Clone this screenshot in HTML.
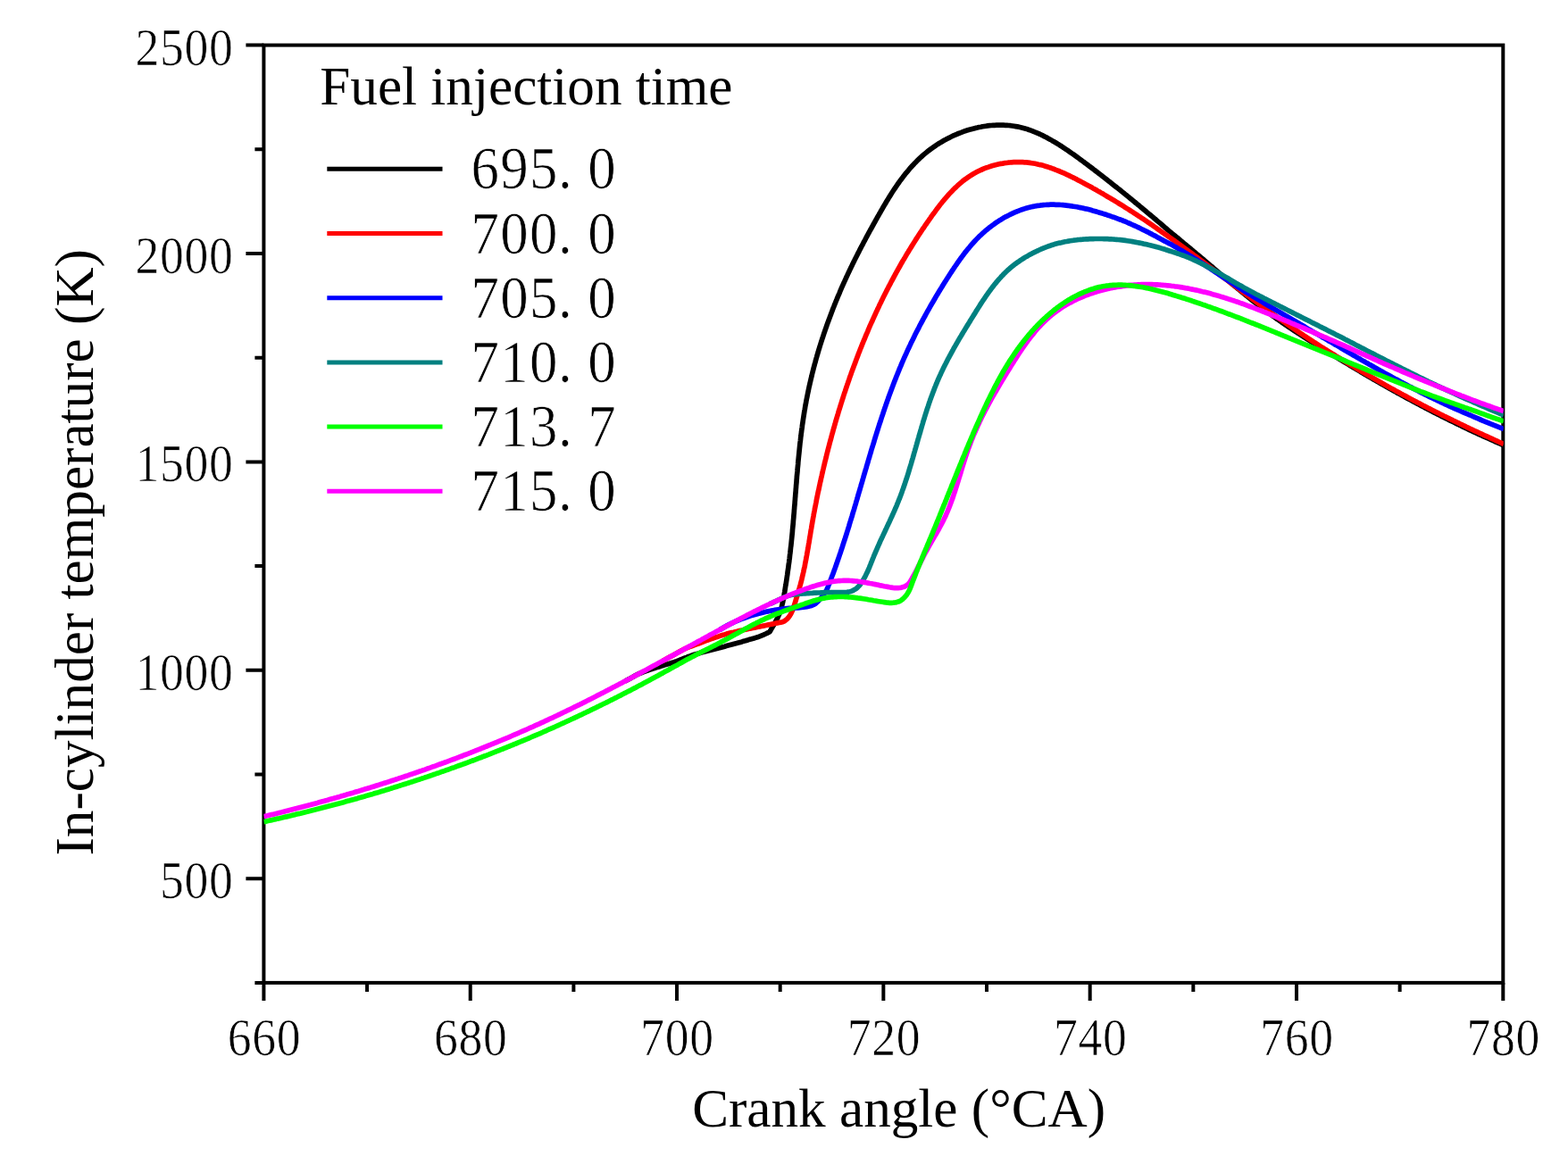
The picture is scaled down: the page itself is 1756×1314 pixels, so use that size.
<!DOCTYPE html>
<html lang="en">
<head>
<meta charset="utf-8">
<title>In-cylinder temperature vs crank angle</title>
<style>
html,body{margin:0;padding:0;background:#fff;}
body{width:1756px;height:1314px;overflow:hidden;}
svg{display:block;}
text{fill:#000;}
.num{font-family:"Liberation Serif","Noto Serif CJK SC",serif;stroke:#fff;stroke-width:0.7px;stroke-linejoin:round;}
.lab{font-family:"Liberation Serif","Noto Serif CJK SC",serif;}
</style>
</head>
<body>
<svg width="1756" height="1314" viewBox="0 0 1756 1314">
<rect x="0" y="0" width="1756" height="1314" fill="#ffffff"/>
<rect x="295.4" y="50.6" width="1387.9" height="1050.30" fill="none" stroke="#000" stroke-width="4.0"/>
<path d="M295.40,1100.9v20M411.06,1100.9v10M526.72,1100.9v20M642.38,1100.9v10M758.03,1100.9v20M873.69,1100.9v10M989.35,1100.9v20M1105.01,1100.9v10M1220.67,1100.9v20M1336.33,1100.9v10M1451.98,1100.9v20M1567.64,1100.9v10M1683.30,1100.9v20M295.4,1100.90h-10M295.4,984.20h-20M295.4,867.50h-10M295.4,750.80h-20M295.4,634.10h-10M295.4,517.40h-20M295.4,400.70h-10M295.4,284.00h-20M295.4,167.30h-10M295.4,50.60h-20" fill="none" stroke="#000" stroke-width="4.0"/>
<clipPath id="clip"><rect x="295.4" y="50.6" width="1388.40" height="1050.30"/></clipPath>
<g clip-path="url(#clip)" fill="none" stroke-linejoin="round" stroke-linecap="butt">
<path d="M700.0,763.0L701.8,762.1L703.5,761.1L705.3,760.2L707.1,759.2L708.9,758.3L710.6,757.3L712.4,756.3L714.1,755.4L716.0,754.5L717.8,753.8L719.7,753.0L721.6,752.3L723.5,751.7L725.4,751.0L727.3,750.4L729.2,749.7L731.1,749.1L733.0,748.5L734.9,747.9L736.8,747.3L738.7,746.7L740.6,746.1L742.6,745.5L744.5,744.9L746.4,744.3L748.3,743.8L750.2,743.2L752.2,742.6L754.1,742.0L756.0,741.3L757.9,740.7L759.8,740.0L761.6,739.2L763.5,738.5L765.3,737.7L767.2,737.0L769.1,736.3L771.0,735.5L772.8,734.9L774.7,734.2L776.7,733.6L778.6,733.0L780.5,732.4L782.4,731.9L784.4,731.3L786.3,730.8L788.2,730.3L790.2,729.8L792.1,729.3L794.1,728.8L796.0,728.3L798.0,727.8L799.9,727.3L801.9,726.8L803.8,726.3L805.7,725.8L807.7,725.2L809.6,724.7L811.5,724.2L813.5,723.6L815.4,723.1L817.4,722.6L819.3,722.1L821.2,721.5L823.2,721.0L825.1,720.5L827.0,719.9L829.0,719.4L830.9,718.9L832.8,718.3L834.8,717.8L836.7,717.2L838.6,716.6L840.6,716.1L842.5,715.5L844.4,715.0L846.3,714.4L848.3,713.8L850.2,713.1L852.0,712.4L853.9,711.7L855.7,710.8L857.5,710.0L859.3,709.1L861.1,708.2L862.0,707.7L863.0,706.0L864.0,704.2L865.0,702.5L866.1,700.8L867.1,699.0L868.1,697.3L869.0,695.5L870.0,693.8L870.9,692.0L871.7,690.2L872.5,688.4L873.2,686.5L873.9,684.7L874.5,682.8L875.1,680.9L875.6,679.0L876.0,677.0L876.5,675.1L876.9,673.1L877.3,671.1L877.6,669.2L878.0,667.2L878.3,665.2L878.7,663.2L879.0,661.3L879.3,659.3L879.6,657.3L880.0,655.3L880.3,653.3L880.6,651.4L880.9,649.4L881.2,647.4L881.5,645.4L881.8,643.4L882.0,641.5L882.3,639.5L882.6,637.5L882.9,635.5L883.1,633.5L883.4,631.5L883.7,629.6L883.9,627.6L884.2,625.6L884.4,623.6L884.6,621.6L884.9,619.6L885.1,617.6L885.3,615.7L885.5,613.7L885.8,611.7L886.0,609.7L886.2,607.7L886.4,605.7L886.6,603.7L886.8,601.7L887.0,599.7L887.2,597.8L887.4,595.8L887.5,593.8L887.7,591.8L887.9,589.8L888.1,587.8L888.3,585.8L888.4,583.8L888.6,581.8L888.8,579.8L888.9,577.8L889.1,575.8L889.3,573.8L889.4,571.8L889.6,569.8L889.7,567.9L889.9,565.9L890.1,563.9L890.2,561.9L890.4,559.9L890.5,557.9L890.7,555.9L890.8,553.9L891.0,551.9L891.2,549.9L891.3,547.9L891.5,545.9L891.6,543.9L891.8,541.9L892.0,539.9L892.1,537.9L892.3,535.9L892.4,533.9L892.6,531.9L892.8,530.0L893.0,528.0L893.1,526.0L893.3,524.0L893.5,522.0L893.7,520.0L893.8,518.0L894.0,516.0L894.2,514.0L894.4,512.0L894.6,510.0L894.8,508.1L895.0,506.1L895.2,504.1L895.4,502.1L895.6,500.1L895.8,498.1L896.0,496.1L896.3,494.1L896.5,492.2L896.7,490.2L897.0,488.2L897.2,486.2L897.5,484.2L897.7,482.2L898.0,480.3L898.3,478.3L898.5,476.3L898.8,474.3L899.1,472.4L899.4,470.4L899.7,468.4L900.0,466.4L900.3,464.5L900.6,462.5L900.9,460.5L901.3,458.5L901.6,456.6L901.9,454.6L902.3,452.6L902.7,450.7L903.0,448.7L903.4,446.7L903.8,444.8L904.2,442.8L904.6,440.8L905.0,438.9L905.4,436.9L905.8,435.0L906.2,433.0L906.7,431.1L907.1,429.1L907.6,427.2L908.0,425.2L908.5,423.3L909.0,421.3L909.4,419.4L909.9,417.4L910.4,415.5L910.9,413.5L911.4,411.6L911.9,409.7L912.4,407.7L913.0,405.8L913.5,403.8L914.0,401.9L914.6,400.0L915.1,398.1L915.7,396.1L916.3,394.2L916.8,392.3L917.4,390.4L918.0,388.4L918.6,386.5L919.2,384.6L919.8,382.7L920.4,380.8L921.0,378.9L921.7,377.0L922.3,375.1L922.9,373.2L923.6,371.3L924.2,369.4L924.9,367.5L925.6,365.6L926.2,363.7L926.9,361.8L927.6,359.9L928.3,358.0L929.0,356.2L929.7,354.3L930.4,352.4L931.1,350.5L931.8,348.7L932.5,346.8L933.2,344.9L934.0,343.1L934.7,341.2L935.5,339.3L936.2,337.5L937.0,335.6L937.7,333.8L938.5,331.9L939.3,330.1L940.1,328.3L940.8,326.4L941.6,324.6L942.4,322.7L943.2,320.9L944.0,319.1L944.8,317.3L945.7,315.4L946.5,313.6L947.3,311.8L948.1,310.0L949.0,308.2L949.8,306.4L950.7,304.6L951.5,302.8L952.4,301.0L953.2,299.2L954.1,297.4L955.0,295.6L955.8,293.8L956.7,292.1L957.6,290.3L958.5,288.5L959.4,286.7L960.3,284.9L961.2,283.2L962.1,281.4L963.0,279.6L963.9,277.9L964.8,276.1L965.8,274.3L966.7,272.6L967.6,270.8L968.6,269.1L969.5,267.3L970.4,265.5L971.4,263.8L972.3,262.0L973.3,260.3L974.2,258.5L975.2,256.8L976.2,255.0L977.1,253.3L978.1,251.5L979.1,249.7L980.1,248.0L981.0,246.2L982.0,244.5L983.0,242.7L984.0,241.0L985.0,239.2L986.0,237.5L987.0,235.7L988.0,234.0L989.0,232.2L990.0,230.5L991.1,228.8L992.1,227.0L993.1,225.3L994.2,223.6L995.2,221.8L996.3,220.1L997.4,218.4L998.4,216.7L999.5,215.0L1000.6,213.3L1001.7,211.7L1002.9,210.0L1004.0,208.3L1005.1,206.7L1006.3,205.0L1007.4,203.4L1008.6,201.8L1009.8,200.2L1011.0,198.6L1012.2,197.0L1013.5,195.4L1014.7,193.8L1016.0,192.3L1017.3,190.8L1018.6,189.2L1019.9,187.7L1021.2,186.3L1022.6,184.8L1023.9,183.3L1025.3,181.9L1026.7,180.5L1028.1,179.1L1029.6,177.7L1031.0,176.3L1032.5,175.0L1034.0,173.7L1035.5,172.4L1037.1,171.1L1038.7,169.8L1040.2,168.6L1041.8,167.4L1043.5,166.2L1045.1,165.0L1046.8,163.9L1048.4,162.7L1050.1,161.6L1051.8,160.5L1053.6,159.5L1055.3,158.5L1057.0,157.4L1058.8,156.5L1060.6,155.5L1062.4,154.6L1064.2,153.7L1066.0,152.8L1067.8,151.9L1069.7,151.1L1071.5,150.3L1073.4,149.5L1075.3,148.8L1077.2,148.1L1079.0,147.4L1080.9,146.7L1082.9,146.1L1084.8,145.5L1086.7,144.9L1088.6,144.4L1090.6,143.9L1092.5,143.4L1094.4,143.0L1096.4,142.5L1098.3,142.2L1100.3,141.8L1102.3,141.5L1104.2,141.2L1106.2,140.9L1108.1,140.7L1110.1,140.5L1112.1,140.4L1114.0,140.3L1116.0,140.2L1118.0,140.1L1119.9,140.1L1121.9,140.1L1123.8,140.2L1125.8,140.3L1127.8,140.4L1129.7,140.5L1131.6,140.7L1133.6,141.0L1135.5,141.3L1137.4,141.6L1139.4,141.9L1141.3,142.3L1143.2,142.7L1145.1,143.2L1147.0,143.7L1148.9,144.3L1150.8,144.8L1152.6,145.5L1154.5,146.1L1156.3,146.8L1158.2,147.6L1160.0,148.3L1161.9,149.1L1163.7,149.9L1165.5,150.8L1167.4,151.7L1169.2,152.6L1171.0,153.5L1172.8,154.4L1174.6,155.4L1176.4,156.4L1178.1,157.4L1179.9,158.4L1181.7,159.5L1183.4,160.5L1185.2,161.6L1186.9,162.7L1188.7,163.8L1190.4,165.0L1192.1,166.1L1193.9,167.3L1195.6,168.4L1197.3,169.6L1199.0,170.8L1200.7,172.0L1202.4,173.2L1204.1,174.4L1205.8,175.6L1207.4,176.8L1209.1,178.1L1210.8,179.3L1212.4,180.5L1214.1,181.7L1215.7,183.0L1217.4,184.2L1219.0,185.4L1220.6,186.7L1222.3,187.9L1223.9,189.1L1225.5,190.4L1227.1,191.6L1228.7,192.8L1230.3,194.1L1231.9,195.3L1233.5,196.5L1235.1,197.8L1236.7,199.0L1238.3,200.2L1239.9,201.5L1241.4,202.7L1243.0,203.9L1244.6,205.2L1246.1,206.4L1247.7,207.7L1249.2,208.9L1250.8,210.1L1252.4,211.4L1253.9,212.6L1255.4,213.8L1257.0,215.1L1258.5,216.3L1260.1,217.6L1261.6,218.8L1263.2,220.1L1264.7,221.3L1266.2,222.6L1267.8,223.8L1269.3,225.1L1270.8,226.4L1272.4,227.6L1273.9,228.9L1275.4,230.1L1276.9,231.4L1278.5,232.7L1280.0,234.0L1281.5,235.2L1283.1,236.5L1284.6,237.8L1286.1,239.1L1287.6,240.4L1289.2,241.6L1290.7,242.9L1292.2,244.2L1293.8,245.5L1295.3,246.8L1296.8,248.1L1298.4,249.4L1299.9,250.7L1301.4,252.0L1303.0,253.4L1304.5,254.7L1306.1,256.0L1307.6,257.3L1309.1,258.6L1310.7,259.9L1312.2,261.2L1313.7,262.4L1315.3,263.7L1316.8,265.0L1318.4,266.2L1319.9,267.5L1321.4,268.8L1323.0,270.1L1324.5,271.3L1326.0,272.6L1327.6,273.9L1329.1,275.2L1330.6,276.4L1332.2,277.7L1333.7,279.0L1335.2,280.3L1336.8,281.6L1338.3,282.8L1339.8,284.1L1341.4,285.4L1342.9,286.7L1344.4,288.0L1345.9,289.2L1347.5,290.5L1349.0,291.8L1350.5,293.1L1352.0,294.4L1353.5,295.7L1355.0,297.0L1356.6,298.2L1358.1,299.5L1359.6,300.8L1361.1,302.1L1362.6,303.4L1364.1,304.7L1365.6,306.0L1367.1,307.3L1368.6,308.5L1370.1,309.8L1371.7,311.1L1373.2,312.4L1374.7,313.7L1376.2,314.9L1377.7,316.2L1379.2,317.5L1380.7,318.7L1382.2,320.0L1383.7,321.3L1385.3,322.5L1386.8,323.8L1388.3,325.0L1389.8,326.3L1391.3,327.5L1392.9,328.8L1394.4,330.0L1395.9,331.3L1397.5,332.5L1399.0,333.7L1400.5,334.9L1402.1,336.2L1403.6,337.4L1405.2,338.6L1406.7,339.8L1408.3,341.0L1409.8,342.2L1411.4,343.4L1413.0,344.6L1414.5,345.8L1416.1,347.0L1417.7,348.2L1419.3,349.4L1420.9,350.5L1422.5,351.7L1424.1,352.9L1425.7,354.1L1427.3,355.2L1428.9,356.4L1430.5,357.6L1432.2,358.7L1433.8,359.8L1435.4,361.0L1437.1,362.1L1438.7,363.3L1440.4,364.4L1442.0,365.5L1443.7,366.6L1445.3,367.7L1447.0,368.8L1448.7,370.0L1450.4,371.1L1452.0,372.2L1453.7,373.3L1455.4,374.3L1457.1,375.4L1458.8,376.5L1460.4,377.6L1462.1,378.7L1463.8,379.8L1465.5,380.8L1467.2,381.9L1468.9,383.0L1470.6,384.1L1472.3,385.1L1474.0,386.2L1475.7,387.2L1477.4,388.3L1479.1,389.4L1480.8,390.4L1482.5,391.5L1484.2,392.5L1485.9,393.6L1487.6,394.6L1489.3,395.7L1491.0,396.7L1492.7,397.7L1494.4,398.8L1496.1,399.8L1497.8,400.8L1499.5,401.9L1501.3,402.9L1503.0,404.0L1504.7,405.0L1506.4,406.1L1508.1,407.1L1509.8,408.1L1511.6,409.2L1513.3,410.2L1515.0,411.3L1516.7,412.3L1518.5,413.3L1520.2,414.4L1521.9,415.4L1523.6,416.4L1525.4,417.4L1527.1,418.5L1528.8,419.5L1530.6,420.5L1532.3,421.5L1534.0,422.5L1535.8,423.5L1537.5,424.5L1539.2,425.6L1541.0,426.6L1542.7,427.6L1544.5,428.6L1546.2,429.6L1548.0,430.5L1549.7,431.5L1551.5,432.5L1553.2,433.5L1555.0,434.5L1556.7,435.5L1558.5,436.5L1560.2,437.4L1562.0,438.4L1563.7,439.4L1565.5,440.4L1567.2,441.3L1569.0,442.3L1570.7,443.3L1572.5,444.2L1574.3,445.2L1576.0,446.2L1577.8,447.1L1579.6,448.1L1581.3,449.0L1583.1,450.0L1584.9,450.9L1586.6,451.9L1588.4,452.8L1590.2,453.7L1592.0,454.7L1593.7,455.6L1595.5,456.6L1597.3,457.5L1599.1,458.4L1600.8,459.3L1602.6,460.3L1604.4,461.2L1606.2,462.1L1608.0,463.0L1609.8,463.9L1611.5,464.8L1613.3,465.7L1615.1,466.6L1616.9,467.5L1618.7,468.4L1620.5,469.3L1622.3,470.2L1624.1,471.1L1625.9,471.9L1627.7,472.8L1629.5,473.7L1631.3,474.6L1633.1,475.5L1634.9,476.3L1636.7,477.2L1638.5,478.1L1640.3,479.0L1642.1,479.8L1643.9,480.7L1645.7,481.6L1647.5,482.4L1649.3,483.3L1651.2,484.1L1653.0,484.9L1654.8,485.8L1656.6,486.6L1658.4,487.4L1660.2,488.3L1662.1,489.1L1663.9,489.9L1665.7,490.7L1667.5,491.5L1669.4,492.4L1671.2,493.2L1673.0,494.0L1674.8,494.8L1676.7,495.6L1678.5,496.4L1680.3,497.2L1682.2,498.0L1684.0,498.8" stroke="#000000" stroke-width="5.7"/>
<path d="M742.0,740.4L743.8,739.4L745.5,738.5L747.3,737.5L749.0,736.6L750.8,735.6L752.6,734.7L754.3,733.7L756.1,732.7L757.8,731.8L759.6,730.8L761.3,729.8L763.1,728.8L764.8,727.9L766.6,727.0L768.4,726.1L770.3,725.4L772.1,724.6L774.0,724.0L775.9,723.3L777.8,722.6L779.7,721.9L781.6,721.3L783.4,720.6L785.3,719.9L787.2,719.1L789.1,718.4L790.9,717.7L792.8,717.0L794.7,716.4L796.6,715.7L798.5,715.0L800.4,714.4L802.3,713.7L804.2,713.1L806.1,712.4L808.0,711.8L809.9,711.2L811.8,710.7L813.7,710.1L815.7,709.6L817.6,709.1L819.6,708.6L821.5,708.2L823.5,707.7L825.4,707.3L827.4,706.8L829.3,706.4L831.3,706.0L833.2,705.5L835.2,705.1L837.2,704.7L839.1,704.3L841.1,703.9L843.0,703.5L845.0,703.1L847.0,702.7L848.9,702.3L850.9,701.9L852.8,701.5L854.8,701.1L856.8,700.7L858.7,700.3L860.7,699.9L862.7,699.5L864.6,699.1L866.6,698.7L868.5,698.3L870.5,697.9L872.5,697.5L874.4,697.1L876.4,696.7L878.3,695.8L880.0,694.6L881.5,693.4L882.8,692.0L884.0,690.4L885.0,688.8L886.0,687.1L886.8,685.4L887.6,683.6L888.3,681.7L888.9,679.8L889.5,677.9L890.1,676.0L890.7,674.1L891.3,672.1L891.9,670.2L892.5,668.3L893.1,666.4L893.7,664.4L894.2,662.5L894.8,660.6L895.3,658.6L895.8,656.7L896.4,654.7L896.9,652.8L897.4,650.9L897.9,648.9L898.3,647.0L898.8,645.0L899.2,643.1L899.7,641.1L900.1,639.1L900.5,637.2L901.0,635.2L901.4,633.3L901.7,631.3L902.1,629.4L902.5,627.4L902.9,625.4L903.2,623.5L903.6,621.5L903.9,619.5L904.3,617.6L904.6,615.6L905.0,613.6L905.3,611.7L905.6,609.7L906.0,607.7L906.3,605.8L906.6,603.8L906.9,601.8L907.3,599.9L907.6,597.9L907.9,595.9L908.2,594.0L908.6,592.0L908.9,590.0L909.2,588.1L909.6,586.1L909.9,584.1L910.3,582.2L910.6,580.2L911.0,578.2L911.3,576.3L911.7,574.3L912.1,572.3L912.4,570.4L912.8,568.4L913.2,566.5L913.6,564.5L914.0,562.5L914.3,560.6L914.7,558.6L915.1,556.7L915.5,554.7L915.9,552.7L916.3,550.8L916.8,548.8L917.2,546.9L917.6,544.9L918.0,543.0L918.4,541.0L918.9,539.1L919.3,537.1L919.7,535.2L920.2,533.2L920.6,531.3L921.1,529.3L921.5,527.4L922.0,525.4L922.4,523.5L922.9,521.5L923.4,519.6L923.8,517.6L924.3,515.7L924.8,513.8L925.3,511.8L925.7,509.9L926.2,507.9L926.7,506.0L927.2,504.0L927.7,502.1L928.2,500.2L928.7,498.2L929.2,496.3L929.7,494.4L930.3,492.4L930.8,490.5L931.3,488.6L931.8,486.6L932.4,484.7L932.9,482.8L933.4,480.8L934.0,478.9L934.5,477.0L935.1,475.1L935.6,473.1L936.2,471.2L936.7,469.3L937.3,467.4L937.9,465.4L938.5,463.5L939.0,461.6L939.6,459.7L940.2,457.8L940.8,455.9L941.4,453.9L942.0,452.0L942.6,450.1L943.2,448.2L943.8,446.3L944.4,444.4L945.0,442.5L945.6,440.6L946.3,438.7L946.9,436.8L947.5,434.9L948.2,433.0L948.8,431.1L949.5,429.2L950.1,427.3L950.8,425.4L951.4,423.5L952.1,421.6L952.8,419.7L953.4,417.8L954.1,416.0L954.8,414.1L955.5,412.2L956.2,410.3L956.9,408.4L957.6,406.6L958.3,404.7L959.0,402.8L959.7,400.9L960.4,399.1L961.1,397.2L961.8,395.3L962.6,393.5L963.3,391.6L964.0,389.8L964.8,387.9L965.5,386.0L966.3,384.2L967.0,382.3L967.8,380.5L968.6,378.6L969.3,376.8L970.1,374.9L970.9,373.1L971.7,371.3L972.4,369.4L973.2,367.6L974.0,365.7L974.8,363.9L975.6,362.1L976.5,360.3L977.3,358.4L978.1,356.6L978.9,354.8L979.8,353.0L980.6,351.1L981.4,349.3L982.3,347.5L983.1,345.7L984.0,343.9L984.8,342.1L985.7,340.3L986.6,338.5L987.4,336.7L988.3,334.9L989.2,333.1L990.1,331.3L991.0,329.5L991.9,327.7L992.8,325.9L993.7,324.2L994.6,322.4L995.5,320.6L996.5,318.8L997.4,317.1L998.3,315.3L999.3,313.5L1000.2,311.8L1001.2,310.0L1002.1,308.2L1003.1,306.5L1004.0,304.7L1005.0,303.0L1006.0,301.2L1007.0,299.5L1008.0,297.8L1008.9,296.0L1009.9,294.3L1010.9,292.5L1012.0,290.8L1013.0,289.1L1014.0,287.4L1015.0,285.6L1016.0,283.9L1017.1,282.2L1018.1,280.5L1019.2,278.8L1020.2,277.1L1021.3,275.4L1022.3,273.7L1023.4,272.0L1024.5,270.3L1025.5,268.6L1026.6,266.9L1027.7,265.2L1028.8,263.5L1029.9,261.8L1031.0,260.2L1032.1,258.5L1033.2,256.8L1034.4,255.2L1035.5,253.5L1036.6,251.8L1037.8,250.2L1038.9,248.5L1040.1,246.9L1041.2,245.2L1042.4,243.6L1043.5,241.9L1044.7,240.3L1045.9,238.7L1047.1,237.1L1048.3,235.4L1049.5,233.8L1050.7,232.2L1051.9,230.6L1053.1,229.0L1054.4,227.5L1055.6,225.9L1056.9,224.4L1058.2,222.8L1059.5,221.3L1060.8,219.8L1062.1,218.3L1063.4,216.9L1064.8,215.4L1066.2,214.0L1067.5,212.6L1068.9,211.2L1070.4,209.8L1071.8,208.5L1073.2,207.2L1074.7,205.9L1076.2,204.6L1077.7,203.3L1079.2,202.1L1080.8,200.9L1082.4,199.8L1084.0,198.7L1085.6,197.6L1087.2,196.5L1088.9,195.5L1090.6,194.4L1092.3,193.5L1094.1,192.5L1095.8,191.7L1097.6,190.8L1099.5,190.0L1101.3,189.2L1103.2,188.4L1105.1,187.7L1107.0,187.1L1108.9,186.4L1110.9,185.8L1112.8,185.3L1114.8,184.8L1116.8,184.3L1118.8,183.8L1120.8,183.4L1122.9,183.1L1124.9,182.7L1126.9,182.5L1129.0,182.2L1131.0,182.0L1133.1,181.8L1135.1,181.7L1137.2,181.6L1139.2,181.6L1141.2,181.6L1143.3,181.6L1145.3,181.7L1147.3,181.8L1149.3,181.9L1151.3,182.1L1153.3,182.4L1155.3,182.7L1157.2,183.0L1159.2,183.3L1161.1,183.7L1163.1,184.2L1165.0,184.6L1166.9,185.1L1168.9,185.6L1170.8,186.2L1172.7,186.8L1174.5,187.4L1176.4,188.0L1178.3,188.7L1180.2,189.3L1182.0,190.1L1183.9,190.8L1185.7,191.5L1187.6,192.3L1189.4,193.1L1191.3,193.9L1193.1,194.7L1194.9,195.6L1196.7,196.4L1198.6,197.3L1200.4,198.2L1202.2,199.1L1204.0,200.0L1205.8,200.9L1207.6,201.9L1209.3,202.8L1211.1,203.8L1212.9,204.7L1214.7,205.7L1216.5,206.7L1218.3,207.6L1220.0,208.6L1221.8,209.6L1223.6,210.6L1225.3,211.6L1227.1,212.6L1228.9,213.6L1230.6,214.6L1232.4,215.6L1234.1,216.6L1235.9,217.6L1237.6,218.6L1239.4,219.7L1241.1,220.7L1242.9,221.7L1244.6,222.8L1246.3,223.8L1248.1,224.8L1249.8,225.9L1251.5,226.9L1253.2,228.0L1254.9,229.1L1256.7,230.1L1258.4,231.2L1260.1,232.3L1261.8,233.4L1263.5,234.4L1265.2,235.5L1266.9,236.6L1268.6,237.7L1270.3,238.8L1272.0,239.9L1273.7,241.0L1275.3,242.1L1277.0,243.2L1278.7,244.3L1280.4,245.4L1282.0,246.5L1283.7,247.7L1285.4,248.8L1287.0,249.9L1288.7,251.1L1290.4,252.2L1292.0,253.4L1293.6,254.5L1295.3,255.7L1296.9,256.9L1298.6,258.0L1300.2,259.2L1301.8,260.3L1303.5,261.4L1305.1,262.6L1306.7,263.7L1308.3,264.8L1310.0,266.0L1311.6,267.1L1313.2,268.3L1314.8,269.4L1316.4,270.6L1318.0,271.7L1319.6,272.9L1321.2,274.0L1322.8,275.2L1324.4,276.4L1326.0,277.5L1327.6,278.7L1329.2,279.9L1330.8,281.0L1332.4,282.2L1334.0,283.4L1335.6,284.6L1337.1,285.8L1338.7,286.9L1340.3,288.1L1341.9,289.3L1343.5,290.5L1345.1,291.7L1346.6,292.9L1348.2,294.1L1349.8,295.3L1351.4,296.5L1353.0,297.7L1354.5,298.9L1356.1,300.1L1357.7,301.3L1359.3,302.5L1360.9,303.7L1362.4,304.9L1364.0,306.1L1365.6,307.3L1367.2,308.5L1368.7,309.7L1370.3,310.9L1371.9,312.1L1373.5,313.3L1375.1,314.5L1376.7,315.7L1378.2,316.9L1379.8,318.1L1381.4,319.3L1383.0,320.4L1384.6,321.6L1386.2,322.8L1387.8,324.0L1389.3,325.2L1390.9,326.4L1392.5,327.6L1394.1,328.8L1395.7,329.9L1397.3,331.1L1398.9,332.3L1400.5,333.5L1402.1,334.7L1403.7,335.9L1405.3,337.0L1406.9,338.2L1408.5,339.4L1410.1,340.6L1411.7,341.8L1413.3,343.0L1414.9,344.1L1416.5,345.3L1418.1,346.5L1419.8,347.7L1421.4,348.8L1423.0,350.0L1424.6,351.2L1426.2,352.3L1427.8,353.5L1429.5,354.6L1431.1,355.8L1432.7,356.9L1434.3,358.1L1436.0,359.2L1437.6,360.4L1439.2,361.5L1440.9,362.7L1442.5,363.8L1444.1,364.9L1445.8,366.1L1447.4,367.2L1449.1,368.3L1450.7,369.4L1452.4,370.6L1454.0,371.7L1455.7,372.8L1457.3,373.9L1459.0,375.0L1460.6,376.1L1462.3,377.2L1464.0,378.3L1465.6,379.4L1467.3,380.5L1469.0,381.6L1470.6,382.7L1472.3,383.8L1474.0,384.8L1475.7,385.9L1477.3,387.0L1479.0,388.1L1480.7,389.1L1482.4,390.2L1484.1,391.3L1485.8,392.3L1487.5,393.4L1489.1,394.4L1490.8,395.5L1492.5,396.5L1494.2,397.5L1495.9,398.6L1497.6,399.6L1499.4,400.7L1501.1,401.7L1502.8,402.8L1504.5,403.8L1506.2,404.9L1507.9,405.9L1509.6,407.0L1511.3,408.0L1513.1,409.0L1514.8,410.1L1516.5,411.1L1518.2,412.2L1520.0,413.2L1521.7,414.2L1523.4,415.2L1525.2,416.3L1526.9,417.3L1528.6,418.3L1530.4,419.3L1532.1,420.3L1533.8,421.3L1535.6,422.3L1537.3,423.3L1539.1,424.3L1540.8,425.3L1542.6,426.3L1544.3,427.3L1546.1,428.3L1547.8,429.3L1549.6,430.3L1551.3,431.3L1553.1,432.2L1554.8,433.2L1556.6,434.2L1558.4,435.2L1560.1,436.1L1561.9,437.1L1563.6,438.1L1565.4,439.0L1567.2,440.0L1568.9,441.0L1570.7,441.9L1572.5,442.9L1574.3,443.8L1576.0,444.8L1577.8,445.7L1579.6,446.7L1581.4,447.6L1583.1,448.6L1584.9,449.5L1586.7,450.4L1588.5,451.4L1590.3,452.3L1592.0,453.2L1593.8,454.2L1595.6,455.1L1597.4,456.0L1599.2,457.0L1601.0,457.9L1602.8,458.8L1604.6,459.7L1606.3,460.6L1608.1,461.5L1609.9,462.4L1611.7,463.3L1613.5,464.2L1615.3,465.1L1617.1,466.0L1618.9,466.8L1620.7,467.7L1622.5,468.6L1624.3,469.5L1626.1,470.4L1627.9,471.3L1629.7,472.1L1631.5,473.0L1633.3,473.9L1635.1,474.8L1636.9,475.6L1638.7,476.5L1640.5,477.4L1642.3,478.3L1644.1,479.1L1645.9,480.0L1647.8,480.9L1649.6,481.7L1651.4,482.6L1653.2,483.4L1655.0,484.2L1656.8,485.1L1658.6,485.9L1660.4,486.7L1662.2,487.6L1664.0,488.4L1665.9,489.2L1667.7,490.0L1669.5,490.9L1671.3,491.7L1673.1,492.5L1674.9,493.3L1676.7,494.1L1678.6,495.0L1680.4,495.8L1682.2,496.6L1684.0,497.4" stroke="#ff0000" stroke-width="5.7"/>
<path d="M806.0,705.6L807.7,704.5L809.5,703.5L811.2,702.5L813.0,701.5L814.7,700.5L816.5,699.6L818.3,698.7L820.1,697.9L821.9,697.0L823.7,696.2L825.6,695.4L827.4,694.6L829.2,693.9L831.1,693.2L833.0,692.5L834.9,691.8L836.7,691.2L838.6,690.5L840.5,689.9L842.4,689.3L844.4,688.7L846.3,688.2L848.2,687.7L850.1,687.1L852.1,686.7L854.0,686.2L856.0,685.7L857.9,685.3L859.9,684.9L861.9,684.5L863.8,684.1L865.8,683.7L867.8,683.4L869.8,683.1L871.7,682.8L873.7,682.5L875.7,682.2L877.7,682.0L879.7,681.8L881.7,681.6L883.7,681.4L885.7,681.3L887.7,681.1L889.7,681.0L891.7,680.9L893.7,680.8L895.7,680.6L897.7,680.4L899.7,680.2L901.7,679.9L903.6,679.6L905.6,679.2L907.5,678.8L909.3,678.2L911.1,677.4L912.8,676.5L914.4,675.2L915.9,673.9L917.2,672.4L918.6,670.8L919.9,669.2L921.2,667.6L922.4,666.0L923.6,664.4L924.7,662.7L925.7,661.0L926.5,659.2L927.3,657.3L928.0,655.5L928.8,653.6L929.5,651.7L930.2,649.9L930.9,648.0L931.6,646.1L932.3,644.3L933.0,642.4L933.7,640.5L934.4,638.6L935.1,636.7L935.7,634.9L936.4,633.0L937.1,631.1L937.7,629.2L938.4,627.3L939.0,625.4L939.7,623.5L940.3,621.6L941.0,619.7L941.6,617.8L942.2,615.9L942.9,614.0L943.5,612.1L944.1,610.2L944.7,608.3L945.3,606.4L946.0,604.5L946.6,602.6L947.2,600.7L947.8,598.8L948.4,596.9L949.0,595.0L949.6,593.1L950.2,591.2L950.8,589.3L951.3,587.3L951.9,585.4L952.5,583.5L953.1,581.6L953.7,579.7L954.3,577.8L954.8,575.8L955.4,573.9L956.0,572.0L956.6,570.1L957.1,568.2L957.7,566.2L958.3,564.3L958.8,562.4L959.4,560.5L960.0,558.6L960.5,556.6L961.1,554.7L961.6,552.8L962.2,550.9L962.8,548.9L963.3,547.0L963.9,545.1L964.4,543.2L965.0,541.3L965.6,539.3L966.1,537.4L966.7,535.5L967.2,533.6L967.8,531.6L968.4,529.7L968.9,527.8L969.5,525.9L970.1,524.0L970.6,522.0L971.2,520.1L971.8,518.2L972.3,516.3L972.9,514.3L973.5,512.4L974.0,510.5L974.6,508.6L975.2,506.7L975.7,504.8L976.3,502.8L976.9,500.9L977.5,499.0L978.1,497.1L978.7,495.2L979.2,493.3L979.8,491.4L980.4,489.4L981.0,487.5L981.6,485.6L982.2,483.7L982.8,481.8L983.4,479.9L984.0,478.0L984.6,476.1L985.2,474.2L985.9,472.3L986.5,470.4L987.1,468.5L987.7,466.6L988.4,464.7L989.0,462.8L989.6,460.9L990.3,459.0L990.9,457.1L991.6,455.2L992.2,453.3L992.9,451.5L993.5,449.6L994.2,447.7L994.9,445.8L995.5,443.9L996.2,442.0L996.9,440.2L997.6,438.3L998.3,436.4L999.0,434.5L999.7,432.7L1000.4,430.8L1001.1,428.9L1001.8,427.1L1002.6,425.2L1003.3,423.4L1004.0,421.5L1004.8,419.6L1005.5,417.8L1006.3,415.9L1007.0,414.1L1007.8,412.2L1008.6,410.4L1009.3,408.6L1010.1,406.7L1010.9,404.9L1011.7,403.0L1012.5,401.2L1013.3,399.4L1014.1,397.6L1015.0,395.7L1015.8,393.9L1016.6,392.1L1017.5,390.3L1018.3,388.5L1019.2,386.6L1020.0,384.8L1020.9,383.0L1021.8,381.2L1022.7,379.4L1023.6,377.6L1024.4,375.8L1025.3,374.0L1026.2,372.2L1027.2,370.4L1028.1,368.7L1029.0,366.9L1029.9,365.1L1030.8,363.3L1031.8,361.5L1032.7,359.8L1033.7,358.0L1034.6,356.2L1035.6,354.5L1036.6,352.7L1037.5,351.0L1038.5,349.2L1039.5,347.4L1040.5,345.7L1041.5,343.9L1042.4,342.2L1043.4,340.5L1044.5,338.7L1045.5,337.0L1046.5,335.3L1047.5,333.5L1048.5,331.8L1049.5,330.1L1050.6,328.4L1051.6,326.6L1052.7,324.9L1053.7,323.2L1054.8,321.5L1055.8,319.8L1056.9,318.1L1057.9,316.4L1059.0,314.7L1060.1,313.0L1061.2,311.3L1062.2,309.7L1063.3,308.0L1064.4,306.3L1065.5,304.6L1066.6,302.9L1067.7,301.3L1068.8,299.6L1069.9,298.0L1071.1,296.3L1072.2,294.7L1073.3,293.1L1074.5,291.4L1075.6,289.8L1076.8,288.2L1078.0,286.6L1079.2,285.0L1080.4,283.4L1081.6,281.9L1082.9,280.3L1084.1,278.8L1085.4,277.3L1086.7,275.7L1088.0,274.2L1089.3,272.7L1090.6,271.3L1092.0,269.8L1093.3,268.4L1094.7,266.9L1096.1,265.5L1097.5,264.1L1099.0,262.8L1100.4,261.4L1101.9,260.1L1103.5,258.7L1105.0,257.4L1106.5,256.2L1108.1,254.9L1109.7,253.7L1111.3,252.5L1113.0,251.3L1114.6,250.1L1116.3,248.9L1118.0,247.8L1119.7,246.7L1121.5,245.7L1123.2,244.6L1125.0,243.6L1126.8,242.6L1128.6,241.7L1130.4,240.8L1132.2,239.9L1134.0,239.0L1135.9,238.2L1137.7,237.4L1139.6,236.6L1141.5,235.9L1143.4,235.2L1145.3,234.5L1147.2,233.9L1149.1,233.3L1151.0,232.8L1152.9,232.3L1154.9,231.8L1156.8,231.4L1158.7,231.0L1160.7,230.6L1162.6,230.3L1164.6,230.1L1166.6,229.8L1168.5,229.6L1170.5,229.5L1172.4,229.4L1174.4,229.3L1176.4,229.2L1178.4,229.2L1180.3,229.2L1182.3,229.3L1184.3,229.3L1186.3,229.4L1188.2,229.5L1190.2,229.7L1192.2,229.9L1194.2,230.1L1196.2,230.3L1198.1,230.6L1200.1,230.9L1202.1,231.2L1204.1,231.5L1206.1,231.8L1208.0,232.2L1210.0,232.6L1212.0,233.0L1213.9,233.4L1215.9,233.9L1217.9,234.3L1219.8,234.8L1221.8,235.3L1223.8,235.9L1225.7,236.4L1227.7,237.0L1229.6,237.6L1231.5,238.2L1233.5,238.8L1235.4,239.4L1237.3,240.0L1239.3,240.6L1241.2,241.3L1243.1,241.9L1245.0,242.6L1246.9,243.2L1248.8,243.9L1250.7,244.6L1252.6,245.3L1254.5,246.0L1256.4,246.7L1258.3,247.5L1260.2,248.2L1262.0,249.0L1263.9,249.8L1265.8,250.7L1267.6,251.5L1269.5,252.3L1271.4,253.2L1273.2,254.0L1275.1,254.9L1276.9,255.8L1278.7,256.7L1280.6,257.6L1282.4,258.5L1284.2,259.4L1286.0,260.3L1287.8,261.3L1289.7,262.2L1291.5,263.2L1293.3,264.1L1295.1,265.1L1296.8,266.1L1298.6,267.0L1300.4,268.0L1302.2,268.9L1304.0,269.9L1305.7,270.8L1307.5,271.7L1309.3,272.7L1311.0,273.6L1312.8,274.6L1314.5,275.6L1316.2,276.6L1318.0,277.6L1319.7,278.6L1321.4,279.6L1323.1,280.6L1324.9,281.6L1326.6,282.7L1328.3,283.7L1330.0,284.7L1331.7,285.8L1333.3,286.8L1335.0,287.8L1336.7,288.9L1338.4,289.9L1340.1,291.0L1341.7,292.0L1343.4,293.1L1345.1,294.2L1346.7,295.3L1348.4,296.3L1350.0,297.4L1351.7,298.5L1353.4,299.6L1355.0,300.7L1356.7,301.8L1358.3,302.9L1359.9,304.0L1361.6,305.1L1363.2,306.2L1364.9,307.3L1366.5,308.4L1368.2,309.5L1369.8,310.6L1371.5,311.7L1373.1,312.8L1374.8,313.9L1376.4,315.0L1378.1,316.1L1379.7,317.1L1381.4,318.2L1383.0,319.3L1384.7,320.4L1386.4,321.5L1388.0,322.5L1389.7,323.6L1391.4,324.7L1393.1,325.7L1394.7,326.8L1396.4,327.8L1398.1,328.8L1399.8,329.9L1401.5,330.9L1403.2,332.0L1404.9,333.0L1406.6,334.0L1408.3,335.1L1410.0,336.1L1411.7,337.1L1413.4,338.1L1415.1,339.2L1416.8,340.2L1418.5,341.2L1420.2,342.2L1421.9,343.2L1423.7,344.2L1425.4,345.2L1427.1,346.2L1428.8,347.3L1430.5,348.3L1432.3,349.3L1434.0,350.3L1435.7,351.3L1437.4,352.3L1439.1,353.3L1440.9,354.3L1442.6,355.3L1444.3,356.3L1446.0,357.3L1447.7,358.3L1449.5,359.3L1451.2,360.3L1452.9,361.3L1454.6,362.3L1456.3,363.3L1458.1,364.3L1459.8,365.3L1461.5,366.3L1463.2,367.4L1464.9,368.4L1466.7,369.4L1468.4,370.4L1470.1,371.4L1471.8,372.4L1473.6,373.4L1475.3,374.4L1477.0,375.4L1478.7,376.4L1480.4,377.4L1482.2,378.4L1483.9,379.4L1485.6,380.4L1487.3,381.4L1489.1,382.4L1490.8,383.4L1492.5,384.4L1494.2,385.4L1496.0,386.4L1497.7,387.4L1499.4,388.4L1501.1,389.4L1502.9,390.4L1504.6,391.5L1506.3,392.5L1508.1,393.5L1509.8,394.5L1511.5,395.5L1513.3,396.5L1515.0,397.5L1516.7,398.6L1518.5,399.6L1520.2,400.6L1521.9,401.6L1523.7,402.6L1525.4,403.6L1527.1,404.6L1528.9,405.6L1530.6,406.6L1532.4,407.6L1534.1,408.6L1535.9,409.6L1537.6,410.5L1539.3,411.5L1541.1,412.5L1542.8,413.5L1544.6,414.5L1546.3,415.5L1548.1,416.4L1549.8,417.4L1551.6,418.4L1553.3,419.4L1555.1,420.3L1556.9,421.3L1558.6,422.3L1560.4,423.2L1562.1,424.2L1563.9,425.1L1565.7,426.1L1567.4,427.0L1569.2,428.0L1571.0,428.9L1572.7,429.9L1574.5,430.8L1576.3,431.8L1578.0,432.7L1579.8,433.6L1581.6,434.6L1583.4,435.5L1585.1,436.4L1586.9,437.3L1588.7,438.2L1590.5,439.2L1592.3,440.1L1594.1,441.0L1595.8,441.9L1597.6,442.8L1599.4,443.7L1601.2,444.6L1603.0,445.4L1604.8,446.3L1606.6,447.2L1608.4,448.0L1610.2,448.9L1612.0,449.7L1613.8,450.6L1615.6,451.4L1617.4,452.3L1619.2,453.1L1621.1,454.0L1622.9,454.8L1624.7,455.6L1626.5,456.5L1628.3,457.3L1630.2,458.1L1632.0,458.9L1633.8,459.7L1635.6,460.5L1637.5,461.3L1639.3,462.1L1641.1,462.9L1643.0,463.7L1644.8,464.5L1646.7,465.2L1648.5,466.0L1650.4,466.8L1652.2,467.6L1654.1,468.4L1655.9,469.2L1657.8,470.0L1659.6,470.8L1661.5,471.6L1663.3,472.3L1665.2,473.1L1667.1,473.9L1668.9,474.7L1670.8,475.4L1672.7,476.2L1674.6,476.9L1676.5,477.7L1678.3,478.4L1680.2,479.1L1682.1,479.9L1684.0,480.6" stroke="#0000ff" stroke-width="5.7"/>
<path d="M862.0,676.6L863.8,675.8L865.7,675.0L867.5,674.2L869.3,673.3L871.1,672.4L872.9,671.5L874.7,670.7L876.6,669.8L878.4,669.0L880.2,668.3L882.1,667.6L884.0,667.0L885.9,666.5L887.8,666.1L889.8,665.8L891.8,665.6L893.7,665.4L895.7,665.2L897.7,665.1L899.7,665.0L901.8,664.8L903.8,664.7L905.8,664.6L907.8,664.5L909.8,664.4L911.8,664.2L913.8,664.1L915.8,664.0L917.8,664.0L919.7,663.9L921.7,663.8L923.7,663.7L925.7,663.7L927.7,663.6L929.7,663.6L931.7,663.6L933.7,663.6L935.7,663.6L937.8,663.6L939.9,663.7L941.9,663.7L944.0,663.7L946.1,663.6L948.1,663.5L950.0,663.1L952.0,662.7L953.8,662.1L955.6,661.3L957.3,660.3L958.9,659.3L960.4,658.0L961.8,656.6L963.1,655.1L964.2,653.5L965.4,651.9L966.4,650.2L967.4,648.5L968.4,646.7L969.3,644.9L970.2,643.1L971.1,641.3L971.9,639.5L972.7,637.7L973.5,635.8L974.2,633.9L975.0,632.1L975.7,630.2L976.5,628.3L977.2,626.4L978.0,624.6L978.7,622.7L979.5,620.8L980.3,619.0L981.1,617.1L981.9,615.3L982.7,613.4L983.5,611.6L984.3,609.8L985.1,608.0L985.9,606.1L986.8,604.3L987.6,602.5L988.5,600.7L989.3,598.9L990.2,597.1L991.0,595.3L991.8,593.5L992.7,591.7L993.5,589.9L994.4,588.0L995.2,586.2L996.1,584.4L996.9,582.6L997.7,580.8L998.6,579.0L999.4,577.2L1000.2,575.4L1001.0,573.6L1001.8,571.8L1002.6,569.9L1003.4,568.1L1004.2,566.3L1004.9,564.4L1005.7,562.6L1006.4,560.7L1007.2,558.9L1007.9,557.0L1008.6,555.2L1009.3,553.3L1010.0,551.4L1010.6,549.5L1011.3,547.7L1012.0,545.8L1012.6,543.9L1013.3,542.0L1013.9,540.1L1014.5,538.2L1015.2,536.3L1015.8,534.4L1016.4,532.5L1017.0,530.6L1017.6,528.6L1018.2,526.7L1018.7,524.8L1019.3,522.9L1019.9,521.0L1020.5,519.0L1021.0,517.1L1021.6,515.2L1022.2,513.2L1022.7,511.3L1023.3,509.4L1023.8,507.4L1024.4,505.5L1024.9,503.6L1025.5,501.6L1026.0,499.7L1026.6,497.8L1027.1,495.8L1027.7,493.9L1028.2,491.9L1028.8,490.0L1029.3,488.1L1029.9,486.1L1030.5,484.2L1031.0,482.3L1031.6,480.3L1032.1,478.4L1032.7,476.5L1033.3,474.5L1033.8,472.6L1034.4,470.7L1035.0,468.8L1035.6,466.8L1036.2,464.9L1036.8,463.0L1037.4,461.1L1038.0,459.2L1038.6,457.3L1039.3,455.4L1039.9,453.5L1040.5,451.6L1041.2,449.7L1041.8,447.8L1042.5,445.9L1043.2,444.0L1043.9,442.2L1044.6,440.3L1045.3,438.4L1046.0,436.6L1046.7,434.7L1047.5,432.8L1048.2,431.0L1049.0,429.2L1049.7,427.3L1050.5,425.5L1051.3,423.7L1052.1,421.8L1053.0,420.0L1053.8,418.2L1054.6,416.4L1055.5,414.6L1056.3,412.8L1057.2,411.0L1058.1,409.2L1059.0,407.5L1059.9,405.7L1060.8,403.9L1061.7,402.1L1062.7,400.4L1063.6,398.6L1064.6,396.8L1065.5,395.1L1066.5,393.3L1067.5,391.6L1068.4,389.8L1069.4,388.1L1070.4,386.4L1071.4,384.6L1072.4,382.9L1073.4,381.1L1074.4,379.4L1075.4,377.7L1076.5,376.0L1077.5,374.2L1078.5,372.5L1079.6,370.8L1080.6,369.1L1081.7,367.3L1082.7,365.6L1083.8,363.9L1084.8,362.2L1085.9,360.5L1086.9,358.7L1088.0,357.0L1089.1,355.3L1090.1,353.6L1091.2,351.9L1092.3,350.2L1093.3,348.4L1094.4,346.7L1095.5,345.0L1096.6,343.3L1097.6,341.6L1098.7,339.9L1099.8,338.2L1100.9,336.5L1102.1,334.9L1103.2,333.2L1104.3,331.5L1105.5,329.9L1106.6,328.2L1107.8,326.6L1109.0,325.0L1110.2,323.4L1111.4,321.8L1112.6,320.2L1113.8,318.6L1115.1,317.1L1116.3,315.6L1117.6,314.1L1118.9,312.6L1120.3,311.1L1121.6,309.6L1123.0,308.2L1124.3,306.8L1125.7,305.4L1127.2,304.0L1128.6,302.7L1130.1,301.3L1131.6,300.0L1133.1,298.8L1134.7,297.5L1136.2,296.3L1137.8,295.1L1139.5,293.9L1141.1,292.8L1142.7,291.7L1144.4,290.6L1146.1,289.5L1147.8,288.4L1149.5,287.4L1151.3,286.4L1153.0,285.4L1154.8,284.5L1156.6,283.5L1158.4,282.6L1160.2,281.7L1162.1,280.8L1163.9,280.0L1165.8,279.2L1167.6,278.4L1169.5,277.6L1171.4,276.9L1173.3,276.2L1175.2,275.5L1177.1,274.8L1179.0,274.2L1180.9,273.6L1182.9,273.1L1184.8,272.6L1186.8,272.1L1188.7,271.7L1190.7,271.2L1192.6,270.8L1194.6,270.5L1196.6,270.1L1198.5,269.8L1200.5,269.5L1202.5,269.2L1204.4,269.0L1206.4,268.7L1208.4,268.5L1210.4,268.3L1212.4,268.2L1214.4,268.0L1216.3,267.9L1218.3,267.8L1220.3,267.7L1222.3,267.6L1224.3,267.6L1226.3,267.5L1228.3,267.5L1230.3,267.5L1232.3,267.5L1234.3,267.5L1236.3,267.6L1238.3,267.6L1240.3,267.7L1242.3,267.8L1244.3,267.9L1246.3,268.0L1248.3,268.2L1250.3,268.3L1252.3,268.5L1254.3,268.7L1256.3,268.9L1258.3,269.1L1260.3,269.4L1262.3,269.7L1264.3,270.0L1266.3,270.3L1268.2,270.6L1270.2,271.0L1272.2,271.4L1274.2,271.7L1276.2,272.1L1278.2,272.5L1280.1,272.9L1282.1,273.4L1284.1,273.8L1286.0,274.3L1288.0,274.7L1290.0,275.2L1291.9,275.7L1293.9,276.2L1295.8,276.8L1297.8,277.3L1299.7,277.9L1301.7,278.5L1303.6,279.0L1305.5,279.7L1307.4,280.3L1309.4,280.9L1311.3,281.5L1313.2,282.1L1315.1,282.7L1317.0,283.3L1318.8,284.0L1320.7,284.6L1322.6,285.3L1324.5,286.0L1326.3,286.7L1328.2,287.4L1330.0,288.2L1331.9,288.9L1333.7,289.7L1335.5,290.5L1337.3,291.3L1339.2,292.1L1341.0,293.0L1342.7,293.8L1344.5,294.7L1346.3,295.6L1348.1,296.5L1349.8,297.4L1351.6,298.4L1353.3,299.3L1355.1,300.3L1356.8,301.2L1358.6,302.2L1360.3,303.2L1362.0,304.1L1363.7,305.1L1365.5,306.1L1367.2,307.1L1368.9,308.1L1370.6,309.1L1372.3,310.1L1374.0,311.1L1375.8,312.1L1377.5,313.2L1379.2,314.2L1380.9,315.2L1382.6,316.2L1384.3,317.2L1386.1,318.2L1387.8,319.2L1389.5,320.1L1391.3,321.1L1393.0,322.1L1394.7,323.1L1396.5,324.0L1398.2,325.0L1400.0,325.9L1401.7,326.9L1403.5,327.8L1405.2,328.7L1407.0,329.7L1408.8,330.6L1410.5,331.5L1412.3,332.4L1414.1,333.3L1415.8,334.2L1417.6,335.1L1419.4,336.0L1421.1,336.9L1422.9,337.8L1424.7,338.7L1426.5,339.6L1428.3,340.5L1430.0,341.4L1431.8,342.3L1433.6,343.2L1435.4,344.1L1437.2,345.0L1439.0,345.9L1440.7,346.8L1442.5,347.7L1444.3,348.6L1446.1,349.5L1447.9,350.4L1449.6,351.3L1451.4,352.2L1453.2,353.1L1455.0,354.0L1456.8,354.9L1458.5,355.8L1460.3,356.7L1462.1,357.6L1463.9,358.5L1465.7,359.4L1467.5,360.3L1469.2,361.2L1471.0,362.1L1472.8,363.0L1474.6,363.9L1476.4,364.8L1478.1,365.7L1479.9,366.6L1481.7,367.5L1483.5,368.4L1485.3,369.3L1487.0,370.2L1488.8,371.1L1490.6,372.0L1492.4,372.9L1494.2,373.8L1495.9,374.7L1497.7,375.6L1499.5,376.5L1501.3,377.4L1503.1,378.3L1504.9,379.3L1506.6,380.2L1508.4,381.1L1510.2,382.0L1512.0,383.0L1513.8,383.9L1515.6,384.8L1517.3,385.8L1519.1,386.7L1520.9,387.6L1522.7,388.5L1524.5,389.5L1526.3,390.4L1528.1,391.3L1529.8,392.2L1531.6,393.2L1533.4,394.1L1535.2,395.0L1537.0,395.9L1538.8,396.8L1540.6,397.8L1542.4,398.7L1544.1,399.6L1545.9,400.5L1547.7,401.4L1549.5,402.3L1551.3,403.3L1553.1,404.2L1554.9,405.1L1556.7,406.0L1558.5,406.9L1560.3,407.8L1562.1,408.7L1563.9,409.6L1565.6,410.5L1567.4,411.4L1569.2,412.3L1571.0,413.2L1572.8,414.1L1574.6,415.0L1576.4,415.9L1578.2,416.8L1580.0,417.7L1581.8,418.6L1583.6,419.5L1585.4,420.4L1587.2,421.3L1589.0,422.2L1590.8,423.1L1592.6,423.9L1594.5,424.8L1596.3,425.7L1598.1,426.6L1599.9,427.5L1601.7,428.3L1603.5,429.2L1605.3,430.0L1607.1,430.9L1608.9,431.8L1610.7,432.6L1612.5,433.5L1614.4,434.3L1616.2,435.1L1618.0,436.0L1619.8,436.8L1621.6,437.7L1623.4,438.5L1625.3,439.3L1627.1,440.2L1628.9,441.0L1630.7,441.8L1632.5,442.7L1634.4,443.5L1636.2,444.3L1638.0,445.1L1639.8,446.0L1641.7,446.8L1643.5,447.6L1645.3,448.4L1647.2,449.2L1649.0,450.0L1650.8,450.9L1652.7,451.7L1654.5,452.5L1656.3,453.3L1658.2,454.1L1660.0,454.9L1661.8,455.7L1663.7,456.4L1665.5,457.2L1667.4,458.0L1669.2,458.8L1671.1,459.6L1672.9,460.4L1674.7,461.1L1676.6,461.9L1678.4,462.7L1680.3,463.5L1682.1,464.2L1684.0,465.0" stroke="#008080" stroke-width="5.7"/>
<path d="M295.4,914.7L297.3,914.2L299.3,913.8L301.2,913.3L303.2,912.8L305.1,912.4L307.1,911.9L309.0,911.4L310.9,910.9L312.9,910.4L314.8,910.0L316.8,909.5L318.7,909.0L320.6,908.5L322.6,908.0L324.5,907.5L326.4,907.0L328.4,906.5L330.3,906.0L332.3,905.5L334.2,905.0L336.1,904.5L338.1,904.0L340.0,903.5L341.9,903.0L343.9,902.5L345.8,902.0L347.7,901.5L349.7,900.9L351.6,900.4L353.5,899.9L355.5,899.4L357.4,898.8L359.3,898.3L361.2,897.8L363.2,897.3L365.1,896.7L367.0,896.2L369.0,895.6L370.9,895.1L372.8,894.6L374.7,894.0L376.7,893.5L378.6,892.9L380.5,892.4L382.4,891.8L384.3,891.3L386.3,890.7L388.2,890.1L390.1,889.6L392.0,889.0L394.0,888.4L395.9,887.9L397.8,887.3L399.7,886.7L401.6,886.2L403.5,885.6L405.5,885.0L407.4,884.4L409.3,883.8L411.2,883.3L413.1,882.7L415.0,882.1L416.9,881.5L418.9,880.9L420.8,880.3L422.7,879.7L424.6,879.1L426.5,878.5L428.4,877.9L430.3,877.3L432.2,876.7L434.1,876.1L436.0,875.5L437.9,874.8L439.8,874.2L441.7,873.6L443.6,873.0L445.5,872.4L447.4,871.7L449.3,871.1L451.2,870.5L453.1,869.8L455.0,869.2L456.9,868.6L458.8,867.9L460.7,867.3L462.6,866.6L464.5,866.0L466.4,865.3L468.3,864.7L470.2,864.0L472.1,863.4L474.0,862.7L475.9,862.1L477.8,861.4L479.6,860.7L481.5,860.1L483.4,859.4L485.3,858.7L487.2,858.1L489.1,857.4L491.0,856.7L492.8,856.0L494.7,855.3L496.6,854.7L498.5,854.0L500.3,853.3L502.2,852.6L504.1,851.9L506.0,851.2L507.9,850.5L509.7,849.8L511.6,849.1L513.5,848.4L515.3,847.7L517.2,847.0L519.1,846.2L520.9,845.5L522.8,844.8L524.7,844.1L526.5,843.4L528.4,842.6L530.3,841.9L532.1,841.2L534.0,840.4L535.9,839.7L537.7,839.0L539.6,838.2L541.4,837.5L543.3,836.7L545.1,836.0L547.0,835.2L548.9,834.5L550.7,833.7L552.6,833.0L554.4,832.2L556.3,831.5L558.1,830.7L560.0,829.9L561.8,829.2L563.6,828.4L565.5,827.6L567.3,826.8L569.2,826.1L571.0,825.3L572.8,824.5L574.7,823.7L576.5,822.9L578.4,822.1L580.2,821.3L582.0,820.5L583.9,819.7L585.7,818.9L587.5,818.1L589.4,817.3L591.2,816.5L593.0,815.7L594.8,814.9L596.7,814.1L598.5,813.2L600.3,812.4L602.1,811.6L603.9,810.8L605.8,809.9L607.6,809.1L609.4,808.3L611.2,807.4L613.0,806.6L614.8,805.7L616.7,804.9L618.5,804.1L620.3,803.2L622.1,802.3L623.9,801.5L625.7,800.6L627.5,799.8L629.3,798.9L631.1,798.0L632.9,797.2L634.7,796.3L636.5,795.4L638.3,794.6L640.1,793.7L641.9,792.8L643.7,791.9L645.5,791.0L647.3,790.1L649.1,789.3L650.9,788.4L652.6,787.5L654.4,786.6L656.2,785.7L658.0,784.8L659.8,783.9L661.6,783.0L663.4,782.1L665.1,781.2L666.9,780.3L668.7,779.3L670.5,778.4L672.3,777.5L674.0,776.6L675.8,775.7L677.6,774.8L679.4,773.8L681.1,772.9L682.9,772.0L684.7,771.1L686.5,770.1L688.2,769.2L690.0,768.3L691.8,767.4L693.5,766.4L695.3,765.5L697.1,764.6L698.9,763.6L700.6,762.7L702.4,761.7L704.2,760.8L705.9,759.9L707.7,758.9L709.5,758.0L711.2,757.0L713.0,756.1L714.7,755.1L716.5,754.2L718.3,753.3L720.0,752.3L721.8,751.4L723.6,750.4L725.3,749.5L727.1,748.5L728.8,747.6L730.6,746.6L732.4,745.6L734.1,744.7L735.9,743.7L737.6,742.8L739.4,741.8L741.2,740.9L742.9,739.9L744.7,739.0L746.4,738.0L748.2,737.0L749.9,736.1L751.7,735.1L753.4,734.2L755.2,733.2L757.0,732.2L758.7,731.3L760.5,730.3L762.2,729.4L764.0,728.4L765.7,727.4L767.5,726.5L769.3,725.5L771.0,724.6L772.8,723.6L774.5,722.6L776.3,721.7L778.0,720.7L779.8,719.8L781.5,718.8L783.3,717.9L785.1,716.9L786.8,715.9L788.6,715.0L790.3,714.0L792.1,713.1L793.8,712.1L795.6,711.1L797.3,710.2L799.1,709.2L800.9,708.3L802.6,707.3L804.4,706.4L806.1,705.4L807.9,704.5L809.6,703.5L811.4,702.6L813.2,701.6L814.9,700.7L816.7,699.7L818.4,698.8L820.2,697.8L822.0,696.9L823.7,696.0L825.5,695.0L827.3,694.1L829.0,693.1L830.8,692.2L832.6,691.3L834.3,690.4L836.1,689.4L837.9,688.5L839.7,687.6L841.4,686.7L843.2,685.8L845.0,684.9L846.8,684.0L848.6,683.1L850.4,682.2L852.2,681.3L853.9,680.4L855.7,679.6L857.5,678.7L859.3,677.8L861.1,677.0L863.0,676.1L864.8,675.3L866.6,674.4L868.4,673.6L870.2,672.8L872.0,672.0L873.9,671.2L875.7,670.3L877.5,669.5L879.4,668.8L881.2,668.0L883.1,667.2L884.9,666.4L886.8,665.7L888.6,664.9L890.5,664.2L892.4,663.4L894.2,662.7L896.1,662.0L898.0,661.3L899.9,660.6L901.8,659.9L903.7,659.2L905.6,658.6L907.5,657.9L909.4,657.3L911.3,656.7L913.2,656.1L915.2,655.5L917.1,654.9L919.0,654.4L920.9,653.9L922.9,653.4L924.8,653.0L926.8,652.6L928.7,652.2L930.7,651.8L932.6,651.5L934.6,651.2L936.6,651.0L938.5,650.7L940.5,650.6L942.5,650.5L944.4,650.4L946.4,650.3L948.4,650.4L950.4,650.4L952.4,650.5L954.3,650.6L956.3,650.8L958.3,651.0L960.3,651.2L962.3,651.5L964.3,651.8L966.3,652.1L968.3,652.4L970.3,652.7L972.2,653.1L974.2,653.5L976.2,653.8L978.2,654.2L980.2,654.6L982.2,655.0L984.2,655.4L986.2,655.9L988.2,656.3L990.2,656.7L992.1,657.0L994.1,657.4L996.1,657.8L998.1,658.1L1000.0,658.4L1002.0,658.6L1004.0,658.7L1005.9,658.6L1007.8,658.5L1009.8,658.1L1011.7,657.6L1013.5,656.8L1015.3,655.8L1016.9,654.6L1018.2,653.1L1019.4,651.5L1020.4,649.8L1021.4,648.0L1022.4,646.3L1023.4,644.5L1024.4,642.8L1025.3,641.0L1026.2,639.2L1027.1,637.4L1028.0,635.6L1028.9,633.8L1029.8,632.0L1030.7,630.2L1031.6,628.4L1032.5,626.7L1033.4,624.9L1034.3,623.1L1035.2,621.3L1036.1,619.5L1037.0,617.8L1038.0,616.0L1038.9,614.3L1039.9,612.5L1040.9,610.8L1041.9,609.1L1042.9,607.3L1043.9,605.6L1044.9,603.9L1045.9,602.1L1046.9,600.4L1047.9,598.7L1048.9,597.0L1049.9,595.2L1050.9,593.5L1051.9,591.7L1052.8,590.0L1053.8,588.2L1054.7,586.5L1055.6,584.7L1056.5,582.9L1057.4,581.1L1058.3,579.3L1059.1,577.5L1059.9,575.7L1060.7,573.9L1061.5,572.0L1062.2,570.2L1063.0,568.3L1063.7,566.5L1064.4,564.6L1065.1,562.7L1065.8,560.8L1066.5,558.9L1067.2,557.0L1067.8,555.1L1068.4,553.2L1069.1,551.3L1069.7,549.4L1070.3,547.5L1070.9,545.6L1071.5,543.7L1072.1,541.7L1072.7,539.8L1073.3,537.9L1073.9,536.0L1074.5,534.0L1075.1,532.1L1075.7,530.2L1076.2,528.2L1076.8,526.3L1077.4,524.4L1078.0,522.5L1078.6,520.5L1079.2,518.6L1079.8,516.7L1080.4,514.8L1081.0,512.9L1081.6,510.9L1082.3,509.0L1082.9,507.1L1083.6,505.2L1084.2,503.3L1084.9,501.5L1085.6,499.6L1086.3,497.7L1087.0,495.8L1087.7,494.0L1088.4,492.1L1089.2,490.3L1089.9,488.4L1090.7,486.6L1091.5,484.8L1092.3,483.0L1093.1,481.1L1093.9,479.3L1094.7,477.5L1095.5,475.7L1096.4,473.9L1097.2,472.1L1098.1,470.3L1098.9,468.5L1099.8,466.7L1100.7,465.0L1101.6,463.2L1102.5,461.4L1103.4,459.7L1104.4,457.9L1105.3,456.1L1106.2,454.4L1107.2,452.6L1108.1,450.9L1109.1,449.1L1110.0,447.4L1111.0,445.6L1112.0,443.9L1113.0,442.2L1114.0,440.4L1115.0,438.7L1116.0,437.0L1117.0,435.2L1118.0,433.5L1119.0,431.8L1120.0,430.1L1121.1,428.3L1122.1,426.6L1123.1,424.9L1124.2,423.2L1125.2,421.4L1126.3,419.7L1127.3,418.0L1128.4,416.3L1129.4,414.6L1130.5,412.9L1131.6,411.1L1132.6,409.4L1133.7,407.7L1134.8,406.0L1135.8,404.3L1136.9,402.6L1138.0,400.9L1139.1,399.2L1140.2,397.5L1141.3,395.8L1142.4,394.1L1143.6,392.4L1144.7,390.7L1145.8,389.1L1147.0,387.4L1148.1,385.8L1149.3,384.2L1150.5,382.5L1151.7,380.9L1152.9,379.3L1154.1,377.7L1155.3,376.2L1156.6,374.6L1157.8,373.1L1159.1,371.5L1160.4,370.0L1161.7,368.5L1163.0,367.0L1164.4,365.6L1165.7,364.1L1167.1,362.7L1168.5,361.3L1169.9,359.9L1171.3,358.5L1172.8,357.2L1174.2,355.9L1175.7,354.6L1177.2,353.3L1178.8,352.0L1180.3,350.8L1181.9,349.6L1183.5,348.4L1185.1,347.3L1186.8,346.1L1188.4,345.0L1190.1,343.9L1191.8,342.9L1193.5,341.8L1195.3,340.8L1197.0,339.8L1198.8,338.9L1200.6,337.9L1202.3,337.0L1204.2,336.1L1206.0,335.2L1207.8,334.4L1209.7,333.6L1211.5,332.8L1213.4,332.0L1215.3,331.2L1217.2,330.5L1219.1,329.8L1221.0,329.1L1223.0,328.5L1224.9,327.8L1226.9,327.2L1228.8,326.6L1230.8,326.0L1232.7,325.5L1234.7,325.0L1236.7,324.5L1238.7,324.0L1240.6,323.5L1242.6,323.1L1244.6,322.6L1246.6,322.2L1248.6,321.9L1250.6,321.5L1252.6,321.2L1254.6,320.9L1256.6,320.6L1258.6,320.3L1260.6,320.1L1262.5,319.8L1264.5,319.6L1266.5,319.4L1268.5,319.3L1270.5,319.1L1272.5,319.0L1274.5,318.9L1276.4,318.8L1278.4,318.7L1280.4,318.7L1282.4,318.7L1284.3,318.6L1286.3,318.7L1288.3,318.7L1290.2,318.7L1292.2,318.8L1294.2,318.8L1296.2,318.9L1298.1,319.0L1300.1,319.2L1302.0,319.3L1304.0,319.5L1306.0,319.7L1307.9,319.8L1309.9,320.0L1311.8,320.3L1313.8,320.5L1315.7,320.8L1317.7,321.0L1319.6,321.3L1321.6,321.6L1323.5,321.9L1325.5,322.2L1327.4,322.6L1329.4,322.9L1331.3,323.3L1333.2,323.7L1335.2,324.1L1337.1,324.5L1339.0,324.9L1341.0,325.3L1342.9,325.7L1344.8,326.2L1346.8,326.7L1348.7,327.1L1350.6,327.6L1352.6,328.1L1354.5,328.6L1356.4,329.1L1358.3,329.7L1360.2,330.2L1362.2,330.8L1364.1,331.3L1366.0,331.9L1367.9,332.5L1369.8,333.0L1371.7,333.6L1373.6,334.2L1375.6,334.9L1377.5,335.5L1379.4,336.1L1381.3,336.7L1383.2,337.4L1385.1,338.0L1387.0,338.7L1388.9,339.4L1390.8,340.0L1392.7,340.7L1394.6,341.4L1396.5,342.1L1398.4,342.8L1400.2,343.5L1402.1,344.2L1404.0,344.9L1405.9,345.6L1407.8,346.3L1409.7,347.1L1411.6,347.8L1413.4,348.5L1415.3,349.3L1417.2,350.0L1419.1,350.8L1421.0,351.5L1422.8,352.3L1424.7,353.0L1426.6,353.8L1428.4,354.6L1430.3,355.3L1432.2,356.1L1434.0,356.9L1435.9,357.6L1437.8,358.4L1439.6,359.2L1441.5,359.9L1443.4,360.7L1445.2,361.5L1447.1,362.3L1448.9,363.0L1450.8,363.8L1452.6,364.6L1454.5,365.4L1456.3,366.2L1458.2,366.9L1460.0,367.7L1461.9,368.5L1463.7,369.3L1465.6,370.1L1467.4,370.9L1469.3,371.6L1471.1,372.4L1472.9,373.2L1474.8,374.0L1476.6,374.8L1478.5,375.6L1480.3,376.4L1482.1,377.2L1484.0,377.9L1485.8,378.7L1487.6,379.5L1489.5,380.3L1491.3,381.1L1493.2,381.9L1495.0,382.7L1496.8,383.5L1498.6,384.3L1500.5,385.1L1502.3,385.9L1504.1,386.7L1506.0,387.5L1507.8,388.4L1509.6,389.2L1511.5,390.0L1513.3,390.8L1515.1,391.7L1516.9,392.5L1518.8,393.3L1520.6,394.1L1522.4,395.0L1524.3,395.8L1526.1,396.6L1527.9,397.4L1529.7,398.3L1531.6,399.1L1533.4,399.9L1535.2,400.7L1537.0,401.5L1538.9,402.4L1540.7,403.2L1542.5,404.0L1544.3,404.8L1546.2,405.6L1548.0,406.5L1549.8,407.3L1551.7,408.1L1553.5,408.9L1555.3,409.7L1557.2,410.5L1559.0,411.2L1560.8,412.0L1562.6,412.8L1564.5,413.6L1566.3,414.4L1568.1,415.2L1570.0,416.0L1571.8,416.8L1573.6,417.6L1575.5,418.3L1577.3,419.1L1579.1,419.9L1581.0,420.7L1582.8,421.5L1584.7,422.3L1586.5,423.0L1588.3,423.8L1590.2,424.6L1592.0,425.4L1593.9,426.1L1595.7,426.9L1597.6,427.7L1599.4,428.4L1601.3,429.2L1603.1,429.9L1605.0,430.7L1606.8,431.5L1608.7,432.2L1610.5,433.0L1612.4,433.7L1614.2,434.5L1616.1,435.2L1617.9,435.9L1619.8,436.7L1621.7,437.4L1623.5,438.2L1625.4,438.9L1627.2,439.6L1629.1,440.4L1631.0,441.1L1632.8,441.8L1634.7,442.5L1636.6,443.3L1638.5,444.0L1640.3,444.7L1642.2,445.4L1644.1,446.1L1646.0,446.9L1647.9,447.6L1649.7,448.3L1651.6,449.0L1653.5,449.7L1655.4,450.4L1657.3,451.1L1659.2,451.8L1661.1,452.5L1663.0,453.2L1664.9,453.9L1666.8,454.5L1668.7,455.2L1670.6,455.9L1672.5,456.6L1674.4,457.3L1676.3,457.9L1678.2,458.6L1680.2,459.3L1682.1,459.9L1684.0,460.6" stroke="#ff00ff" stroke-width="5.7"/>
<path d="M295.4,920.6L297.4,920.2L299.3,919.7L301.3,919.3L303.2,918.9L305.2,918.4L307.1,918.0L309.1,917.6L311.0,917.1L313.0,916.7L314.9,916.2L316.9,915.8L318.8,915.3L320.8,914.9L322.7,914.4L324.7,914.0L326.6,913.5L328.6,913.0L330.5,912.6L332.5,912.1L334.4,911.6L336.3,911.2L338.3,910.7L340.2,910.2L342.2,909.7L344.1,909.3L346.1,908.8L348.0,908.3L349.9,907.8L351.9,907.3L353.8,906.8L355.8,906.3L357.7,905.8L359.6,905.3L361.6,904.8L363.5,904.3L365.5,903.8L367.4,903.3L369.3,902.8L371.3,902.3L373.2,901.8L375.1,901.3L377.1,900.8L379.0,900.2L380.9,899.7L382.9,899.2L384.8,898.7L386.7,898.1L388.6,897.6L390.6,897.1L392.5,896.5L394.4,896.0L396.4,895.5L398.3,894.9L400.2,894.4L402.1,893.8L404.1,893.3L406.0,892.7L407.9,892.2L409.8,891.6L411.7,891.1L413.7,890.5L415.6,889.9L417.5,889.4L419.4,888.8L421.3,888.2L423.3,887.7L425.2,887.1L427.1,886.5L429.0,885.9L430.9,885.4L432.8,884.8L434.8,884.2L436.7,883.6L438.6,883.0L440.5,882.4L442.4,881.8L444.3,881.2L446.2,880.6L448.1,880.0L450.0,879.4L451.9,878.8L453.8,878.2L455.7,877.6L457.7,877.0L459.6,876.4L461.5,875.8L463.4,875.1L465.3,874.5L467.2,873.9L469.1,873.3L471.0,872.6L472.9,872.0L474.8,871.4L476.7,870.7L478.6,870.1L480.4,869.5L482.3,868.8L484.2,868.2L486.1,867.5L488.0,866.9L489.9,866.2L491.8,865.6L493.7,864.9L495.6,864.2L497.5,863.6L499.4,862.9L501.2,862.3L503.1,861.6L505.0,860.9L506.9,860.2L508.8,859.6L510.7,858.9L512.5,858.2L514.4,857.5L516.3,856.8L518.2,856.2L520.1,855.5L521.9,854.8L523.8,854.1L525.7,853.4L527.6,852.7L529.4,852.0L531.3,851.3L533.2,850.6L535.0,849.9L536.9,849.2L538.8,848.5L540.7,847.7L542.5,847.0L544.4,846.3L546.3,845.6L548.1,844.9L550.0,844.1L551.8,843.4L553.7,842.7L555.6,841.9L557.4,841.2L559.3,840.5L561.1,839.7L563.0,839.0L564.9,838.2L566.7,837.5L568.6,836.7L570.4,836.0L572.3,835.2L574.1,834.5L576.0,833.7L577.8,833.0L579.7,832.2L581.5,831.4L583.4,830.7L585.2,829.9L587.1,829.1L588.9,828.3L590.8,827.6L592.6,826.8L594.4,826.0L596.3,825.2L598.1,824.4L600.0,823.6L601.8,822.8L603.6,822.1L605.5,821.3L607.3,820.5L609.1,819.7L611.0,818.9L612.8,818.0L614.6,817.2L616.5,816.4L618.3,815.6L620.1,814.8L621.9,814.0L623.8,813.2L625.6,812.3L627.4,811.5L629.2,810.7L631.0,809.9L632.9,809.0L634.7,808.2L636.5,807.3L638.3,806.5L640.1,805.7L641.9,804.8L643.8,804.0L645.6,803.1L647.4,802.3L649.2,801.4L651.0,800.6L652.8,799.7L654.6,798.8L656.4,798.0L658.2,797.1L660.0,796.3L661.8,795.4L663.6,794.5L665.4,793.6L667.2,792.8L669.0,791.9L670.8,791.0L672.6,790.1L674.4,789.2L676.2,788.3L678.0,787.5L679.8,786.6L681.6,785.7L683.4,784.8L685.2,783.9L687.0,783.0L688.7,782.1L690.5,781.2L692.3,780.3L694.1,779.4L695.9,778.4L697.7,777.5L699.4,776.6L701.2,775.7L703.0,774.8L704.8,773.9L706.6,772.9L708.3,772.0L710.1,771.1L711.9,770.2L713.6,769.2L715.4,768.3L717.2,767.4L719.0,766.4L720.7,765.5L722.5,764.5L724.3,763.6L726.0,762.7L727.8,761.7L729.5,760.8L731.3,759.8L733.1,758.9L734.8,757.9L736.6,757.0L738.3,756.0L740.1,755.0L741.9,754.1L743.6,753.1L745.4,752.1L747.1,751.2L748.9,750.2L750.6,749.2L752.4,748.3L754.1,747.3L755.9,746.3L757.6,745.4L759.4,744.4L761.1,743.4L762.9,742.5L764.6,741.5L766.4,740.5L768.1,739.6L769.9,738.6L771.6,737.7L773.4,736.7L775.2,735.8L776.9,734.9L778.7,733.9L780.5,733.0L782.3,732.1L784.0,731.2L785.8,730.3L787.6,729.4L789.4,728.5L791.2,727.6L793.0,726.7L794.8,725.8L796.5,724.9L798.3,724.0L800.1,723.1L801.9,722.2L803.7,721.3L805.5,720.4L807.2,719.4L809.0,718.5L810.8,717.6L812.5,716.6L814.3,715.7L816.1,714.7L817.8,713.8L819.6,712.8L821.3,711.8L823.1,710.9L824.8,709.9L826.6,708.9L828.3,708.0L830.1,707.0L831.8,706.0L833.6,705.1L835.4,704.1L837.1,703.2L838.9,702.2L840.6,701.3L842.4,700.3L844.2,699.4L846.0,698.5L847.7,697.6L849.5,696.7L851.3,695.8L853.1,694.9L854.9,694.1L856.7,693.2L858.5,692.4L860.4,691.6L862.2,690.8L864.0,690.0L865.9,689.2L867.7,688.5L869.6,687.7L871.5,687.0L873.3,686.3L875.2,685.6L877.1,684.9L879.0,684.2L880.8,683.5L882.7,682.8L884.6,682.1L886.5,681.5L888.4,680.8L890.3,680.1L892.2,679.5L894.1,678.8L896.0,678.2L897.9,677.5L899.8,676.9L901.7,676.2L903.6,675.5L905.4,674.9L907.3,674.3L909.2,673.6L911.1,673.0L913.0,672.5L915.0,671.9L916.9,671.4L918.8,670.9L920.7,670.5L922.7,670.1L924.6,669.7L926.6,669.4L928.6,669.2L930.6,669.0L932.5,668.8L934.5,668.7L936.5,668.6L938.5,668.5L940.6,668.5L942.6,668.5L944.6,668.5L946.6,668.6L948.6,668.7L950.6,668.9L952.6,669.0L954.6,669.2L956.6,669.4L958.6,669.6L960.6,669.9L962.6,670.1L964.6,670.4L966.6,670.7L968.6,671.0L970.5,671.3L972.5,671.7L974.4,672.0L976.4,672.3L978.3,672.7L980.3,673.0L982.2,673.4L984.2,673.7L986.2,674.0L988.2,674.3L990.2,674.6L992.3,674.9L994.3,675.1L996.4,675.3L998.4,675.3L1000.4,675.2L1002.3,675.0L1004.2,674.6L1006.0,674.1L1007.8,673.3L1009.4,672.3L1011.0,671.1L1012.4,669.7L1013.8,668.3L1015.1,666.7L1016.2,665.0L1017.3,663.2L1018.2,661.4L1019.1,659.6L1019.8,657.7L1020.5,655.9L1021.2,654.0L1021.9,652.1L1022.6,650.2L1023.4,648.3L1024.1,646.4L1024.8,644.6L1025.5,642.7L1026.2,640.8L1027.0,639.0L1027.7,637.1L1028.5,635.3L1029.2,633.4L1030.0,631.6L1030.7,629.7L1031.5,627.9L1032.3,626.0L1033.0,624.2L1033.8,622.3L1034.6,620.5L1035.3,618.6L1036.1,616.8L1036.9,614.9L1037.7,613.1L1038.4,611.3L1039.2,609.4L1040.0,607.6L1040.8,605.7L1041.5,603.9L1042.3,602.1L1043.1,600.2L1043.9,598.4L1044.6,596.5L1045.4,594.7L1046.1,592.9L1046.9,591.0L1047.7,589.2L1048.4,587.3L1049.2,585.5L1049.9,583.6L1050.7,581.8L1051.4,579.9L1052.2,578.1L1052.9,576.2L1053.7,574.4L1054.4,572.5L1055.2,570.7L1055.9,568.8L1056.7,567.0L1057.4,565.1L1058.2,563.3L1058.9,561.4L1059.7,559.6L1060.4,557.7L1061.1,555.9L1061.9,554.0L1062.6,552.1L1063.4,550.3L1064.1,548.4L1064.9,546.6L1065.6,544.7L1066.3,542.9L1067.1,541.0L1067.8,539.2L1068.6,537.3L1069.3,535.5L1070.1,533.6L1070.8,531.8L1071.6,529.9L1072.3,528.0L1073.1,526.2L1073.8,524.3L1074.6,522.5L1075.3,520.6L1076.1,518.8L1076.8,516.9L1077.6,515.1L1078.3,513.2L1079.1,511.4L1079.9,509.5L1080.6,507.7L1081.4,505.8L1082.2,504.0L1082.9,502.1L1083.7,500.3L1084.5,498.5L1085.2,496.6L1086.0,494.8L1086.8,492.9L1087.6,491.1L1088.4,489.2L1089.2,487.4L1089.9,485.6L1090.7,483.7L1091.5,481.9L1092.3,480.0L1093.1,478.2L1093.9,476.4L1094.7,474.5L1095.6,472.7L1096.4,470.9L1097.2,469.0L1098.0,467.2L1098.8,465.4L1099.7,463.6L1100.5,461.7L1101.3,459.9L1102.2,458.1L1103.0,456.3L1103.9,454.4L1104.7,452.6L1105.6,450.8L1106.4,449.0L1107.3,447.2L1108.2,445.4L1109.1,443.6L1110.0,441.8L1110.9,440.0L1111.8,438.2L1112.7,436.4L1113.6,434.6L1114.5,432.8L1115.4,431.1L1116.4,429.3L1117.3,427.5L1118.3,425.8L1119.2,424.0L1120.2,422.3L1121.2,420.5L1122.1,418.8L1123.1,417.0L1124.1,415.3L1125.1,413.6L1126.2,411.9L1127.2,410.1L1128.2,408.4L1129.3,406.7L1130.3,405.1L1131.4,403.4L1132.5,401.7L1133.6,400.0L1134.7,398.4L1135.8,396.7L1136.9,395.1L1138.1,393.4L1139.2,391.8L1140.4,390.2L1141.6,388.5L1142.8,386.9L1144.0,385.3L1145.2,383.8L1146.4,382.2L1147.6,380.6L1148.9,379.1L1150.2,377.5L1151.4,376.0L1152.7,374.4L1154.1,372.9L1155.4,371.4L1156.7,369.9L1158.1,368.4L1159.4,366.9L1160.8,365.5L1162.2,364.0L1163.6,362.6L1165.1,361.2L1166.5,359.7L1168.0,358.3L1169.5,356.9L1171.0,355.6L1172.5,354.2L1174.0,352.9L1175.5,351.5L1177.1,350.2L1178.7,348.9L1180.2,347.6L1181.8,346.4L1183.4,345.1L1185.1,343.9L1186.7,342.7L1188.3,341.6L1190.0,340.4L1191.7,339.3L1193.3,338.2L1195.0,337.1L1196.7,336.0L1198.5,335.0L1200.2,334.0L1201.9,333.0L1203.7,332.1L1205.4,331.2L1207.2,330.3L1209.0,329.4L1210.8,328.6L1212.6,327.8L1214.4,327.0L1216.2,326.3L1218.1,325.6L1219.9,324.9L1221.7,324.3L1223.6,323.7L1225.5,323.1L1227.3,322.6L1229.2,322.1L1231.1,321.6L1233.0,321.2L1234.9,320.8L1236.8,320.5L1238.7,320.2L1240.6,320.0L1242.6,319.7L1244.5,319.6L1246.4,319.4L1248.4,319.3L1250.3,319.3L1252.3,319.2L1254.2,319.2L1256.2,319.2L1258.2,319.3L1260.1,319.4L1262.1,319.5L1264.1,319.7L1266.1,319.9L1268.1,320.1L1270.0,320.3L1272.0,320.6L1274.0,320.9L1276.0,321.2L1278.0,321.5L1280.0,321.8L1282.0,322.2L1284.0,322.6L1286.0,323.0L1288.0,323.5L1290.0,323.9L1292.0,324.4L1294.0,324.9L1296.0,325.4L1297.9,325.9L1299.9,326.4L1301.9,326.9L1303.9,327.5L1305.9,328.0L1307.9,328.6L1309.8,329.2L1311.8,329.8L1313.8,330.4L1315.8,331.0L1317.7,331.6L1319.7,332.2L1321.6,332.8L1323.6,333.4L1325.5,334.0L1327.5,334.6L1329.4,335.3L1331.3,335.9L1333.3,336.5L1335.2,337.2L1337.1,337.8L1339.0,338.5L1340.9,339.1L1342.9,339.8L1344.8,340.4L1346.7,341.1L1348.6,341.7L1350.5,342.4L1352.4,343.1L1354.2,343.7L1356.1,344.4L1358.0,345.1L1359.9,345.8L1361.8,346.4L1363.7,347.1L1365.5,347.8L1367.4,348.5L1369.3,349.2L1371.1,349.9L1373.0,350.6L1374.9,351.3L1376.7,352.0L1378.6,352.7L1380.4,353.4L1382.3,354.1L1384.1,354.8L1386.0,355.5L1387.9,356.2L1389.7,356.9L1391.5,357.7L1393.4,358.4L1395.2,359.1L1397.1,359.8L1398.9,360.6L1400.8,361.3L1402.6,362.0L1404.4,362.7L1406.3,363.5L1408.1,364.2L1410.0,364.9L1411.8,365.7L1413.6,366.4L1415.5,367.2L1417.3,367.9L1419.1,368.6L1421.0,369.4L1422.8,370.1L1424.6,370.9L1426.5,371.6L1428.3,372.3L1430.1,373.1L1432.0,373.8L1433.8,374.6L1435.6,375.3L1437.5,376.1L1439.3,376.8L1441.1,377.6L1443.0,378.3L1444.8,379.1L1446.7,379.8L1448.5,380.6L1450.3,381.3L1452.2,382.1L1454.0,382.8L1455.9,383.6L1457.7,384.4L1459.6,385.1L1461.4,385.9L1463.3,386.6L1465.1,387.4L1466.9,388.1L1468.8,388.9L1470.6,389.6L1472.5,390.4L1474.3,391.1L1476.2,391.9L1478.0,392.6L1479.9,393.4L1481.7,394.2L1483.6,394.9L1485.5,395.7L1487.3,396.4L1489.2,397.2L1491.0,397.9L1492.9,398.7L1494.7,399.4L1496.6,400.2L1498.4,400.9L1500.3,401.7L1502.2,402.5L1504.0,403.2L1505.9,404.0L1507.7,404.8L1509.6,405.6L1511.5,406.3L1513.3,407.1L1515.2,407.9L1517.0,408.6L1518.9,409.4L1520.8,410.2L1522.6,410.9L1524.5,411.7L1526.4,412.5L1528.2,413.2L1530.1,414.0L1532.0,414.8L1533.8,415.5L1535.7,416.3L1537.6,417.1L1539.4,417.8L1541.3,418.6L1543.2,419.3L1545.0,420.1L1546.9,420.9L1548.8,421.6L1550.6,422.4L1552.5,423.1L1554.4,423.9L1556.2,424.6L1558.1,425.4L1560.0,426.2L1561.9,426.9L1563.7,427.7L1565.6,428.4L1567.5,429.2L1569.4,429.9L1571.2,430.6L1573.1,431.4L1575.0,432.1L1576.9,432.9L1578.7,433.6L1580.6,434.4L1582.5,435.1L1584.4,435.8L1586.2,436.6L1588.1,437.3L1590.0,438.1L1591.9,438.8L1593.7,439.5L1595.6,440.2L1597.5,441.0L1599.4,441.7L1601.2,442.4L1603.1,443.1L1605.0,443.8L1606.9,444.5L1608.8,445.2L1610.6,445.8L1612.5,446.5L1614.4,447.2L1616.3,447.9L1618.2,448.6L1620.0,449.3L1621.9,449.9L1623.8,450.6L1625.7,451.3L1627.6,451.9L1629.4,452.6L1631.3,453.3L1633.2,453.9L1635.1,454.6L1637.0,455.3L1638.8,455.9L1640.7,456.6L1642.6,457.2L1644.5,457.9L1646.4,458.5L1648.2,459.2L1650.1,459.8L1652.0,460.5L1653.9,461.2L1655.8,461.9L1657.7,462.6L1659.5,463.3L1661.4,463.9L1663.3,464.6L1665.2,465.3L1667.1,466.0L1668.9,466.6L1670.8,467.3L1672.7,468.0L1674.6,468.6L1676.5,469.3L1678.4,469.9L1680.2,470.6L1682.1,471.2L1684.0,471.9" stroke="#00ff00" stroke-width="5.7"/>
</g>
<text transform="scale(0.92,1)" x="276.87 306.76 336.65" y="1182.2" font-size="58.4" class="num">660</text>
<text transform="scale(0.92,1)" x="528.30 558.19 588.08" y="1182.2" font-size="58.4" class="num">680</text>
<text transform="scale(0.92,1)" x="779.73 809.62 839.51" y="1182.2" font-size="58.4" class="num">700</text>
<text transform="scale(0.92,1)" x="1031.16 1061.05 1090.94" y="1182.2" font-size="58.4" class="num">720</text>
<text transform="scale(0.92,1)" x="1282.59 1312.48 1342.37" y="1182.2" font-size="58.4" class="num">740</text>
<text transform="scale(0.92,1)" x="1534.02 1563.91 1593.81" y="1182.2" font-size="58.4" class="num">760</text>
<text transform="scale(0.92,1)" x="1785.45 1815.35 1845.24" y="1182.2" font-size="58.4" class="num">780</text>
<text transform="scale(0.92,1)" x="194.58 224.48 254.37" y="1006.2" font-size="58.4" class="num">500</text>
<text transform="scale(0.92,1)" x="164.69 194.58 224.48 254.37" y="772.8000000000001" font-size="58.4" class="num">1000</text>
<text transform="scale(0.92,1)" x="164.69 194.58 224.48 254.37" y="539.4" font-size="58.4" class="num">1500</text>
<text transform="scale(0.92,1)" x="164.69 194.58 224.48 254.37" y="305.9999999999999" font-size="58.4" class="num">2000</text>
<text transform="scale(0.92,1)" x="164.69 194.58 224.48 254.37" y="72.59999999999991" font-size="58.4" class="num">2500</text>
<line x1="366.3" y1="189.3" x2="495.5" y2="189.3" stroke="#000000" stroke-width="5"/>
<text transform="scale(0.93,1)" x="567.24 602.40 637.56 672.04 707.88" y="211.5" font-size="67.6" class="num">695.0</text>
<line x1="366.3" y1="261.5" x2="495.5" y2="261.5" stroke="#ff0000" stroke-width="5"/>
<text transform="scale(0.93,1)" x="567.24 602.40 637.56 672.04 707.88" y="283.7" font-size="67.6" class="num">700.0</text>
<line x1="366.3" y1="333.7" x2="495.5" y2="333.7" stroke="#0000ff" stroke-width="5"/>
<text transform="scale(0.93,1)" x="567.24 602.40 637.56 672.04 707.88" y="355.9" font-size="67.6" class="num">705.0</text>
<line x1="366.3" y1="405.9" x2="495.5" y2="405.9" stroke="#008080" stroke-width="5"/>
<text transform="scale(0.93,1)" x="567.24 602.40 637.56 672.04 707.88" y="428.09999999999997" font-size="67.6" class="num">710.0</text>
<line x1="366.3" y1="478.1" x2="495.5" y2="478.1" stroke="#00ff00" stroke-width="5"/>
<text transform="scale(0.93,1)" x="567.24 602.40 637.56 672.04 707.88" y="500.3" font-size="67.6" class="num">713.7</text>
<line x1="366.3" y1="550.3" x2="495.5" y2="550.3" stroke="#ff00ff" stroke-width="5"/>
<text transform="scale(0.93,1)" x="567.24 602.40 637.56 672.04 707.88" y="572.5" font-size="67.6" class="num">715.0</text>
<text x="358.3" y="117.1" font-size="61.2" class="lab">Fuel injection time</text>
<text x="1006.6" y="1261.5" font-size="61.2" class="lab" text-anchor="middle">Crank angle (°CA)</text>
<text transform="translate(104.1,618.8) rotate(-90)" font-size="61.2" class="lab" text-anchor="middle">In-cylinder temperature (K)</text>
</svg>
</body>
</html>
